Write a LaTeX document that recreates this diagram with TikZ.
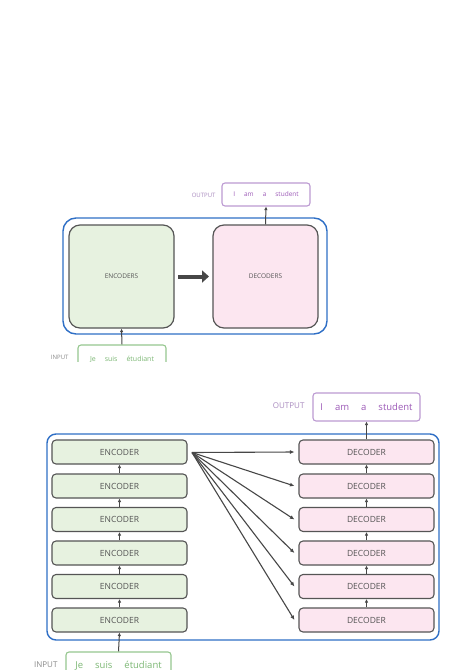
\documentclass[tikz,border=0pt]{standalone}
\usepackage{fontspec}
\setmainfont{Open Sans}
\usetikzlibrary{arrows.meta}
\definecolor{bluebox}{HTML}{2F6FC6}
\definecolor{encfill}{HTML}{E7F2E0}
\definecolor{decfill}{HTML}{FCE6F0}
\definecolor{boxline}{HTML}{555555}
\definecolor{arrowc}{HTML}{474747}
\definecolor{purpline}{HTML}{BC9AD2}
\definecolor{purptext}{HTML}{9D5BB8}
\definecolor{greenline}{HTML}{96C78F}
\definecolor{greentext}{HTML}{7DB875}
\definecolor{labelgray}{HTML}{8A8A8A}
\definecolor{outlabel}{HTML}{A98ABF}
\tikzset{
  outerbox/.style={draw=bluebox, line width=1.4pt, rounded corners=13pt},
  bigenc/.style={draw=boxline, fill=encfill, line width=1.2pt, rounded corners=11pt, minimum width=105pt, minimum height=103pt, inner sep=0pt, font=\fontsize{6.5}{7}\selectfont, text=boxline},
  bigdec/.style={bigenc, fill=decfill},
  encbox/.style={draw=boxline, fill=encfill, line width=1.1pt, rounded corners=4pt, minimum width=135pt, minimum height=24pt, inner sep=0pt, font=\fontsize{8.5}{9}\selectfont, text=boxline},
  decbox/.style={encbox, fill=decfill},
  outbox/.style={draw=purpline, line width=1.1pt, rounded corners=3pt, inner sep=0pt, text=purptext},
  inbox/.style={draw=greenline, line width=1.1pt, rounded corners=3pt, inner sep=0pt, text=greentext},
  arr/.style={draw=arrowc, line width=1.1pt, -{Latex[length=4.5pt,width=4pt]}},
  thinarr/.style={draw=arrowc, line width=1pt, -{Latex[length=3.5pt,width=3.5pt]}},
}
\begin{document}
\begin{tikzpicture}[x=1pt,y=-1pt]
\useasboundingbox[fill=white] (0,0) rectangle (474,670);
\clip (0,0) rectangle (474,670);
% ---------- top diagram ----------
\draw[outerbox] (63,218) rectangle (327,334);
\node[bigenc] (encs) at (121.5,276.5) {ENCODERS};
\node[bigdec] (decs) at (265.5,276.5) {DECODERS};
\coordinate (ta1) at (178,276.5);
\coordinate (ta2) at (209,276.5);
\draw[draw=arrowc, line width=4pt, -{Triangle[length=7pt,width=12pt]}] (ta1) -- (ta2);
\node[outbox, minimum width=88pt, minimum height=23pt, font=\fontsize{6.5}{7}\selectfont] (out1) at (266,194.5) {I\hspace{9pt}am\hspace{9pt}a\hspace{9pt}student};
\node[text=outlabel, font=\fontsize{6}{7}\selectfont, anchor=east] (outl1) at (219,195) {OUTPUT};
\draw[thinarr] (decs.north) -- (out1.south);
\begin{scope}
\clip (0,0) rectangle (474,361);
\node[inbox, minimum width=88pt, minimum height=26pt, font=\fontsize{7}{8}\selectfont, text depth=0pt] (in1) at (122,358) {\raisebox{-1pt}{Je\hspace{9pt}suis\hspace{9pt}étudiant}};
\end{scope}
\node[text=labelgray, font=\fontsize{6}{7}\selectfont, anchor=east] (inl1) at (72,357) {INPUT};
\draw[thinarr] (in1.north) -- (encs.south);
% ---------- bottom diagram ----------
\draw[outerbox, rounded corners=9pt] (47,434) rectangle (439,640);
\foreach \i/\y in {1/620,2/586.5,3/553,4/519.5,5/486,6/452}{
  \node[encbox] (e\i) at (119.5,\y) {ENCODER};
  \node[decbox] (d\i) at (366.5,\y) {DECODER};
}
\foreach \a/\b in {1/2,2/3,3/4,4/5,5/6}{
  \draw[thinarr] (e\a.north) -- (e\b.south);
  \draw[thinarr] (d\a.north) -- (d\b.south);
}
\coordinate (src) at (192,452.5);
\foreach \i in {1,...,6}{
  \draw[arr] (src) -- ([xshift=-4pt]d\i.west);
}
\node[outbox, minimum width=107pt, minimum height=28pt, font=\fontsize{9.5}{10}\selectfont] (out2) at (366.5,407) {I\hspace{12pt}am\hspace{12pt}a\hspace{12pt}student};
\node[text=outlabel, font=\fontsize{8}{9}\selectfont, anchor=east] (outl2) at (308,406) {OUTPUT};
\draw[thinarr] (d6.north) -- (out2.south);
\node[inbox, minimum width=105pt, minimum height=28pt, font=\fontsize{9.5}{10}\selectfont] (in2) at (118.5,666) {Je\hspace{12pt}suis\hspace{12pt}étudiant};
\node[text=labelgray, font=\fontsize{8}{9}\selectfont, anchor=east] (inl2) at (61,664.5) {INPUT};
\draw[thinarr] (in2.north) -- (e1.south);
\end{tikzpicture}
\end{document}
